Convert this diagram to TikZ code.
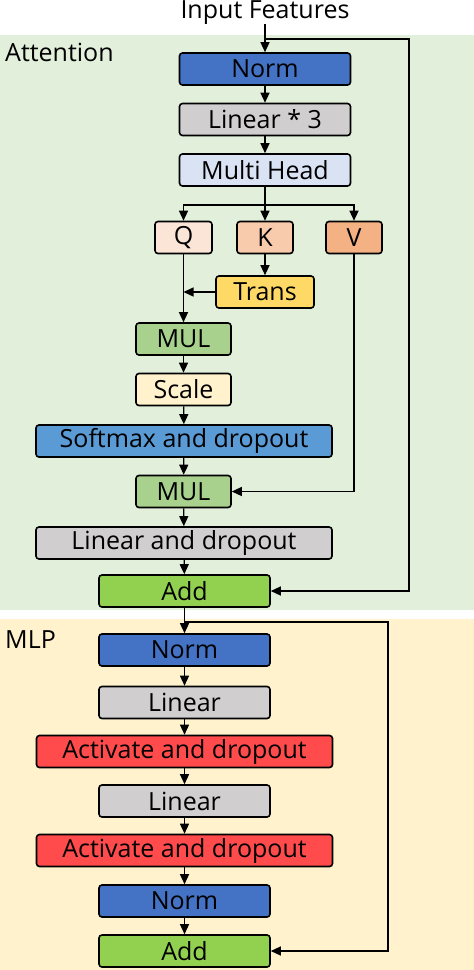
\documentclass[tikz,border=0pt]{standalone}
\usepackage{fontspec}
\setmainfont{Open Sans}
\usetikzlibrary{arrows.meta}

\definecolor{attbg}{HTML}{E2EFDA}
\definecolor{mlpbg}{HTML}{FFF2CC}
\definecolor{normc}{HTML}{4472C4}
\definecolor{linc}{HTML}{D0CECE}
\definecolor{headc}{HTML}{DAE3F3}
\definecolor{qc}{HTML}{FBE5D6}
\definecolor{kc}{HTML}{F8CBAD}
\definecolor{vc}{HTML}{F4B183}
\definecolor{transc}{HTML}{FFD966}
\definecolor{mulc}{HTML}{A9D18E}
\definecolor{scalec}{HTML}{FFF2CC}
\definecolor{softc}{HTML}{5B9BD5}
\definecolor{addc}{HTML}{92D050}
\definecolor{actc}{HTML}{FF4B4B}

\tikzset{
  block/.style={draw, rounded corners=3pt, line width=1.6pt, minimum height=32pt,
    inner sep=0pt, font=\fontsize{25}{28}\selectfont},
  arr/.style={line width=1.3pt, -{Triangle[length=10pt,width=9pt]}},
  wire/.style={line width=1.3pt}
}

\begin{document}
\begin{tikzpicture}[x=1pt,y=-1pt]
\useasboundingbox (0,0) rectangle (474,970);
\fill[attbg] (0,35) rectangle (474,610);
\fill[mlpbg] (0,619) rectangle (474,970);
\node[anchor=base west, inner sep=0pt, font=\fontsize{25}{28}\selectfont] (attlbl) at (5,61) {Attention};
\node[anchor=base west, inner sep=0pt, font=\fontsize{25}{28}\selectfont] (mlplbl) at (5,648) {MLP};
\node[anchor=base, inner sep=0pt, font=\fontsize{25}{28}\selectfont] (inp) at (265,18) {Input Features};

\foreach \n/\x/\y/\w/\c/\t in {norma/265/69/171/normc/Norm, linthree/265/119.5/171/linc/Linear * 3,
    mhead/265/170/171/headc/Multi Head, q/183.5/237.5/57/qc/Q, k/265/237.5/56/kc/K, v/354/237.5/56/vc/V,
    trans/265/292/98/transc/Trans, mula/183.5/339/95/mulc/MUL, scale/183.5/389.5/95/scalec/Scale,
    soft/184/441/296/softc/Softmax and dropout, mulb/183.5/491.5/95/mulc/MUL,
    lindrop/184/543/296/linc/Linear and dropout, adda/184.5/591/171/addc/Add,
    normb/184.5/650/171/normc/Norm, lina/184.5/702.5/171/linc/Linear,
    acta/184.5/751.5/296/actc/Activate and dropout, linb/184.5/801/171/linc/Linear,
    actb/184.5/850.5/296/actc/Activate and dropout, normc/184.5/901/171/normc/Norm,
    addb/184.5/951/171/addc/Add}
    \draw (\x, \y) node[block, minimum width=\w pt, fill=\c] (\n) {\t};

% attention skip
\coordinate (attskip) at (409,39);
\draw[arr] (inp) -- (norma);
\draw[arr] (norma.north |- attskip) -- (attskip) |- (adda.east);
\foreach \i/\j in {norma/linthree, linthree/mhead, k/trans, q/mula, mula/scale, scale/soft,
    soft/mulb, mulb/lindrop, lindrop/adda}
    \draw[arr] (\i) -- (\j);

% q k v branch
\coordinate (qkv) at (265,205);
\draw[wire] (mhead) -- (qkv);
\draw[arr] (qkv) -| (q);
\draw[arr] (qkv) -- (k);
\draw[arr] (qkv) -| (v);
\draw[arr] (trans) -- (trans.west -| q);
\draw[arr] (v) |- (mulb);

% mlp skip
\coordinate (mlpskip) at (388,622);
\draw[arr] (adda) -- (normb);
\draw[arr] (adda.south |- mlpskip) -- (mlpskip) |- (addb.east);
\foreach \i/\j in {normb/lina, lina/acta, acta/linb, linb/actb, actb/normc, normc/addb}
    \draw[arr] (\i) -- (\j);
\end{tikzpicture}
\end{document}
